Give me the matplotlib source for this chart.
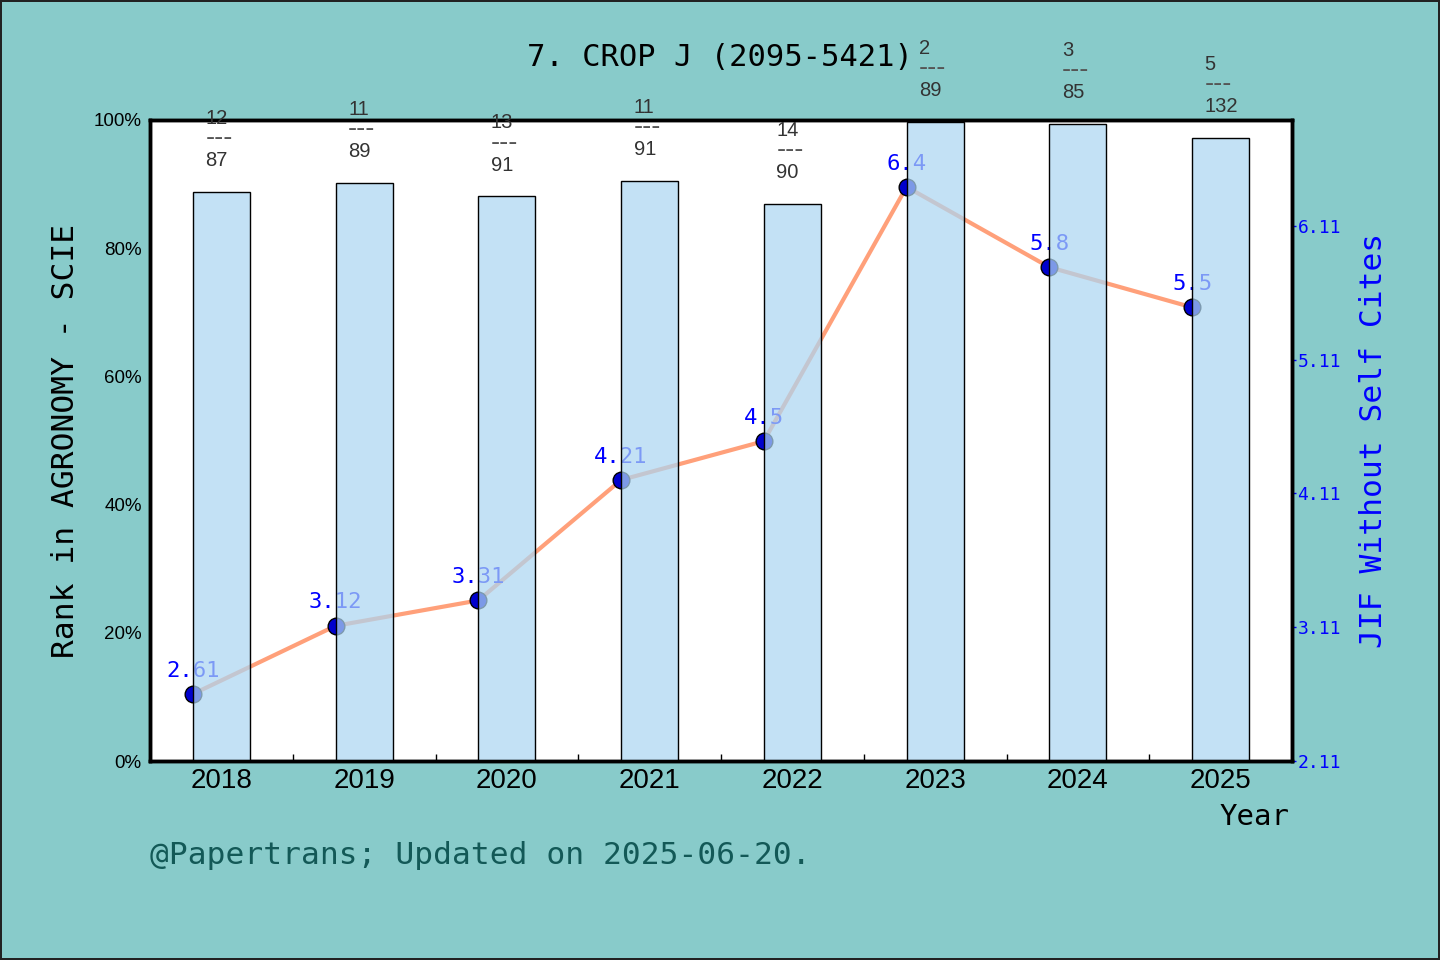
import matplotlib
matplotlib.use("Agg")
import matplotlib.pyplot as plt

# data
years = ["2018", "2019", "2020", "2021", "2022", "2023", "2024", "2025"]
rank = [12, 11, 13, 11, 14, 2, 3, 5]
total = [87, 89, 91, 91, 90, 89, 85, 132]
rank_pct = [88.8, 90.2, 88.1, 90.5, 86.9, 99.7, 99.4, 97.2]
jif = [2.61, 3.12, 3.31, 4.21, 4.5, 6.4, 5.8, 5.5]
jif_ticks = [2.11, 3.11, 4.11, 5.11, 6.11]
pct_ticks = [0, 20, 40, 60, 80, 100]

mono = "DejaVu Sans Mono"
sans = "Liberation Sans"
bg = "#88CBCA"

fig = plt.figure(figsize=(14.4, 9.6), dpi=100, facecolor=bg)
fig.patch.set_edgecolor("#222222")
fig.patch.set_linewidth(1.5)

# line axes (JIF, right side) sits under the bar axes
ax = fig.add_axes([150 / 1440, 1 - 761 / 960, 1142 / 1440, 641 / 960])
ax.set_facecolor("white")
ax2 = ax.twinx()

x = list(range(len(years)))

ax.plot(x, jif, color="#FFA07A", lw=3, zorder=2)
ax.plot(x, jif, "o", ms=12, mfc="#0000CD", mec="black", mew=1, zorder=3)
for i, v in enumerate(jif):
    ax.annotate(str(v), (i, v), xytext=(0, 12.5), textcoords="offset points",
                ha="center", va="baseline", color="blue", fontsize=16, family=mono)

# bars on top, semi transparent so the line shows through
ax2.bar(x, [p / 100 for p in rank_pct], width=0.4, align="edge",
        color=(0.68, 0.84, 0.95, 0.72), edgecolor="black", lw=1)
for i in x:
    top = (i + 0.2, rank_pct[i] / 100)
    ax2.annotate(str(total[i]), top, xytext=(-11.5, 22.5), textcoords="offset points",
                 ha="left", va="center", fontsize=14.5, color="#333333", family=sans,
                 annotation_clip=False)
    ax2.annotate("---", top, xytext=(-11.5, 38.5), textcoords="offset points",
                 ha="left", va="center", fontsize=18, color="#555555", family="DejaVu Sans",
                 annotation_clip=False)
    ax2.annotate(str(rank[i]), top, xytext=(-11.5, 53), textcoords="offset points",
                 ha="left", va="center", fontsize=14.5, color="#333333", family=sans,
                 annotation_clip=False)

ax.set_xlim(-0.3, 7.7)
ax.set_ylim(2.11, 6.9)
ax2.set_ylim(0, 1)

ax.yaxis.tick_right()
ax.yaxis.set_label_position("right")
ax2.yaxis.tick_left()
ax2.yaxis.set_label_position("left")

ax.set_xticks([i + 0.2 for i in x])
ax.set_xticklabels(years, fontsize=20, family=sans)
ax.set_xticks([i + 0.7 for i in range(len(years) - 1)], minor=True)
ax.tick_params(axis="x", which="major", length=0, pad=5)
ax.tick_params(axis="x", which="minor", direction="in", length=5, width=1)

ax.set_yticks(jif_ticks)
ax.set_yticklabels([f"{t:.2f}" for t in jif_ticks], family=mono)
ax.tick_params(axis="y", colors="blue", labelsize=13, length=3, pad=1, width=1)
ax.set_ylabel("JIF Without Self Cites", color="blue", fontsize=22.5, family=mono, labelpad=13)

ax2.set_yticks([p / 100 for p in pct_ticks])
ax2.set_yticklabels([f"{p}%" for p in pct_ticks], family=sans)
ax2.tick_params(axis="y", length=0, pad=6, labelsize=13.5)
ax2.set_ylabel("Rank in AGRONOMY - SCIE", fontsize=22.5, family=mono, labelpad=10)

for a in (ax, ax2):
    for s in a.spines.values():
        s.set_linewidth(2.5)
        s.set_color("black")

fig.text(0.5, 1 - 57 / 960, "7. CROP J (2095-5421)", ha="center", va="center",
         fontsize=22, family=mono)
fig.text(1290 / 1440, 1 - 817 / 960, "Year", ha="right", va="center",
         fontsize=21, family=mono)
fig.text(150 / 1440, 1 - 855 / 960, "@Papertrans; Updated on 2025-06-20.", ha="left",
         va="center", fontsize=22.5, family=mono, color="#135957")

fig.savefig("out.png", dpi=100, facecolor=bg, edgecolor=fig.patch.get_edgecolor())
